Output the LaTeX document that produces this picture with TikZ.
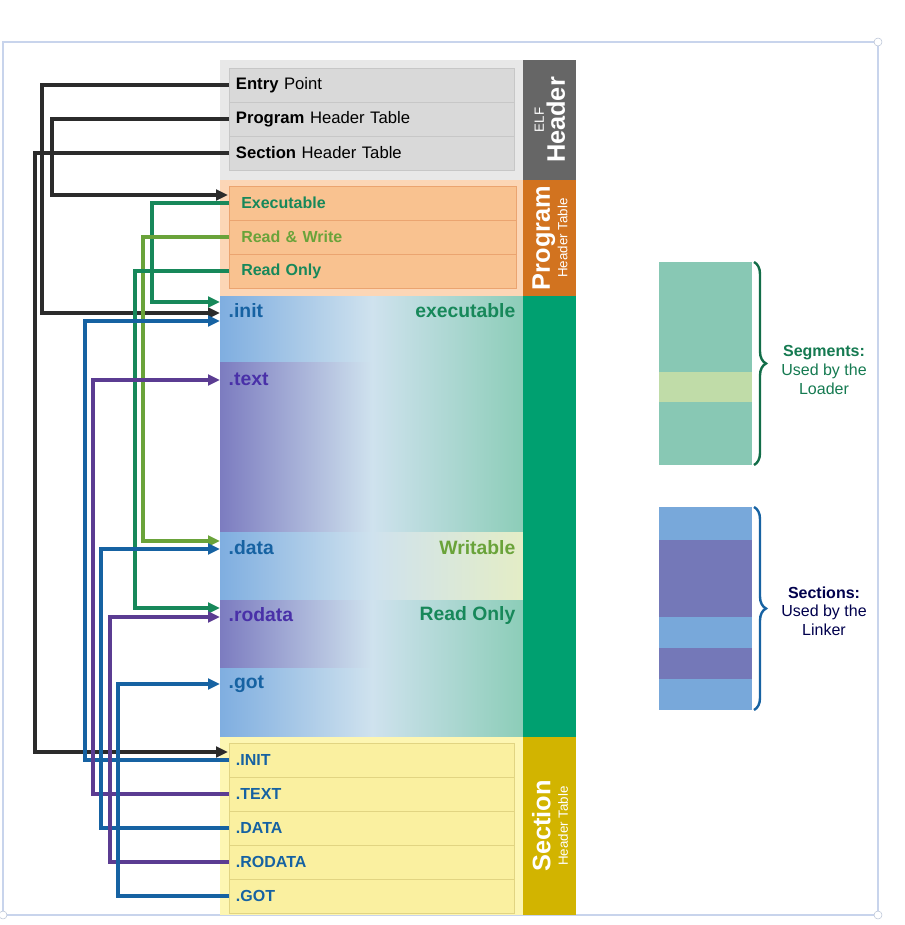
\documentclass[tikz,border=0pt]{standalone}
\usepackage{fontspec}
\setmainfont{Liberation Sans}
\usetikzlibrary{arrows.meta,decorations.pathreplacing}
\definecolor{blk}{HTML}{2B2B2B}
\definecolor{grn}{HTML}{17885A}
\definecolor{lgrn}{HTML}{6AA33A}
\definecolor{blu}{HTML}{1662A2}
\definecolor{pur}{HTML}{5B3C92}
\definecolor{bandB}{HTML}{7FAEE0}
\definecolor{bandP}{HTML}{7C7CC0}
\definecolor{midL}{HTML}{CFE2EE}
\definecolor{tealR}{HTML}{8CCDB8}
\definecolor{yelR}{HTML}{E4EDC6}
\definecolor{prowF}{HTML}{F9C290}
\definecolor{prowD}{HTML}{EBA470}
\definecolor{pOut}{HTML}{FCD6B6}
\definecolor{pSide}{HTML}{D2731F}
\definecolor{srowF}{HTML}{FAF0A0}
\definecolor{srowD}{HTML}{E1D482}
\definecolor{sOut}{HTML}{FDF6B2}
\definecolor{sSide}{HTML}{D2B400}
\definecolor{gSide}{HTML}{00A070}
\definecolor{segA}{HTML}{88C8B4}
\definecolor{segB}{HTML}{C0DCA8}
\definecolor{secA}{HTML}{78A8DA}
\definecolor{secB}{HTML}{7478B8}
\definecolor{frm}{HTML}{C8D4EC}
\tikzset{
 conn/.style={line width=2.5pt,-{Triangle[length=9pt,width=8pt]}},
 row/.style={anchor=west,minimum height=25.5pt,inner xsep=5pt,text width=204pt,align=left,font=\fontsize{12.5}{14}\selectfont},
 erow/.style={row,draw=black!22,fill=black!15},
 prow/.style={row,draw=prowD,fill=prowF,inner xsep=9pt,text width=197pt,text=grn,font=\fontsize{12}{14}\selectfont\bfseries},
 srow/.style={row,draw=srowD,fill=srowF,text=blu,font=\fontsize{12}{14}\selectfont\bfseries},
 sec/.style={anchor=west,font=\fontsize{14.5}{16}\selectfont\bfseries},
 side/.style={rotate=90,text=white,align=center},
}
\begin{document}
\begin{tikzpicture}[x=0.75pt,y=-0.75pt]
\useasboundingbox (0,0) rectangle (904,925);
% frame
\draw[frm,line width=0.8pt] (3,42) rectangle (878,915);
\foreach \p in {(878,42),(3,915),(878,915)} \draw[frm!80!gray,fill=white] \p circle (4);
% ELF header
\fill[black!9] (220,60) rectangle (523,180);
\fill[black!60] (523,60) rectangle (576,180);
\node[erow] (ep) at (229,85) {\textbf{Entry} Point};
\node[erow] (ph) at (229,119) {\textbf{Program} Header Table};
\node[erow] (sh) at (229,153) {\textbf{Section} Header Table};
\node[side] (elf) at (550,120) {{\fontsize{10}{11}\selectfont ELF}\\[1pt]{\fontsize{19}{20}\selectfont\bfseries Header}};
% Program header
\fill[pOut] (220,180) rectangle (523,296);
\fill[pSide] (523,180) rectangle (576,296);
\node[prow] (ex) at (229,203) {Executable};
\node[prow,text=lgrn] (rw) at (229,237) {Read \& Write};
\node[prow] (ro) at (229,271) {Read Only};
\node[side] (pht) at (550,238) {{\fontsize{19}{20}\selectfont\bfseries Program}\\[1pt]{\fontsize{10}{11}\selectfont Header Table}};
% sections area
\foreach \ya/\yb/\c/\r in {296/362/bandB/tealR,362/532/bandP/tealR,532/600/bandB/yelR,600/668/bandP/tealR,668/737/bandB/tealR}{
 \shade[left color=\c,right color=midL] (220,\ya) rectangle (372,\yb);
 \shade[left color=midL,right color=\r] (372,\ya) rectangle (523,\yb);
}
\fill[gSide] (523,296) rectangle (576,737);
\node[sec,text=blu] (init) at (224,311) {.init};
\node[sec,text=pur!80!blue] (text) at (224,379) {.text};
\node[sec,text=blu] (data) at (224,548) {.data};
\node[sec,text=pur!80!blue] (rodata) at (224,615) {.rodata};
\node[sec,text=blu] (got) at (224,684) {.got};
\node[sec,anchor=east,text=grn] (exl) at (520,311) {executable};
\node[sec,anchor=east,text=lgrn] (wrl) at (520,548) {Writable};
\node[sec,anchor=east,text=grn] (rol) at (520,615) {Read Only};
% section header
\fill[sOut] (220,737) rectangle (523,915);
\fill[sSide] (523,737) rectangle (576,915);
\node[srow] (sI) at (229,760) {.INIT};
\node[srow] (sT) at (229,794) {.TEXT};
\node[srow] (sD) at (229,828) {.DATA};
\node[srow] (sR) at (229,862) {.RODATA};
\node[srow] (sG) at (229,896) {.GOT};
\node[side] (sht) at (550,826) {{\fontsize{19}{20}\selectfont\bfseries Section}\\[1pt]{\fontsize{10}{11}\selectfont Header Table}};
% targets
\coordinate (tInit1) at (220,313);
\coordinate (tExe) at (228,195);
\coordinate (tSI) at (228,752);
\coordinate (tInit2) at (220,302);
\coordinate (tData1) at (220,541);
\coordinate (tRod1) at (220,608);
\coordinate (tInit3) at (220,321);
\coordinate (tText) at (220,380);
\coordinate (tData2) at (220,549);
\coordinate (tRod2) at (220,617);
\coordinate (tGot) at (220,684);
% connectors
\draw[conn,blk] (ep.west) -- ++(-187,0) |- (tInit1);
\draw[conn,blk] (ph.west) -- ++(-177,0) |- (tExe);
\draw[conn,blk] (sh.west) -- ++(-194,0) |- (tSI);
\draw[conn,grn] (ex.west) -- ++(-77,0) |- (tInit2);
\draw[conn,lgrn] (rw.west) -- ++(-86,0) |- (tData1);
\draw[conn,grn] (ro.west) -- ++(-94,0) |- (tRod1);
\draw[conn,blu] (sI.west) -- ++(-144,0) |- (tInit3);
\draw[conn,pur] (sT.west) -- ++(-136,0) |- (tText);
\draw[conn,blu] (sD.west) -- ++(-128,0) |- (tData2);
\draw[conn,pur] (sR.west) -- ++(-119,0) |- (tRod2);
\draw[conn,blu] (sG.west) -- ++(-111,0) |- (tGot);
% right legend
\fill[segA] (659,262) rectangle (752,465);
\fill[segB] (659,372) rectangle (752,402);
\fill[secA] (659,507) rectangle (752,710);
\fill[secB] (659,540) rectangle (752,617);
\fill[secB] (659,648) rectangle (752,679);
\draw[grn!80!black,line width=1.8pt,decorate,decoration={brace,amplitude=9pt}] (754,262) -- (754,465);
\draw[blu,line width=1.8pt,decorate,decoration={brace,amplitude=9pt}] (754,507) -- (754,710);
\node[align=center,text=grn!90!black,font=\fontsize{12}{14}\selectfont] (segt) at (824,370) {\textbf{Segments:}\\Used by the\\Loader};
\node[align=center,text=blue!30!black,font=\fontsize{12}{14}\selectfont] (sect) at (824,611) {\textbf{Sections:}\\Used by the\\Linker};
\end{tikzpicture}
\end{document}
